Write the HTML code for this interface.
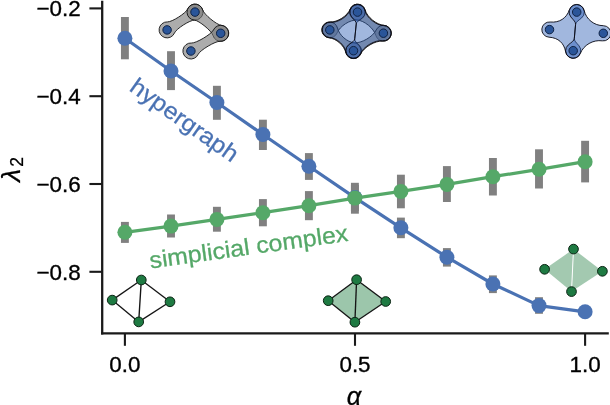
<!DOCTYPE html>
<html><head><meta charset="utf-8"><title>lambda2 vs alpha</title>
<style>
html,body{margin:0;padding:0;background:#fff;}
body{width:610px;height:405px;overflow:hidden;font-family:"Liberation Sans",sans-serif;}
svg{display:block}
text{font-family:"Liberation Sans",sans-serif;}
</style></head><body>
<svg width="610" height="405" viewBox="0 0 610 405">
<rect width="610" height="405" fill="#fff"/>

<g id="errorbars-blue">
<rect x="120.95" y="17.00" width="7.9" height="42.30" fill="#808080"/>
<rect x="167.05" y="51.20" width="7.9" height="38.90" fill="#808080"/>
<rect x="212.95" y="85.80" width="7.9" height="34.00" fill="#808080"/>
<rect x="258.95" y="119.70" width="7.9" height="30.30" fill="#808080"/>
<rect x="304.95" y="153.10" width="7.9" height="26.80" fill="#808080"/>
<rect x="350.95" y="185.00" width="7.9" height="26.00" fill="#808080"/>
<rect x="396.95" y="217.60" width="7.9" height="20.60" fill="#808080"/>
<rect x="442.95" y="248.10" width="7.9" height="18.50" fill="#808080"/>
<rect x="488.95" y="275.40" width="7.9" height="17.70" fill="#808080"/>
<rect x="535.05" y="297.20" width="7.9" height="16.60" fill="#808080"/>
</g>
<g id="errorbars-green">
<rect x="120.95" y="221.90" width="7.9" height="21.00" fill="#808080"/>
<rect x="167.05" y="214.50" width="7.9" height="23.00" fill="#808080"/>
<rect x="212.95" y="206.80" width="7.9" height="24.90" fill="#808080"/>
<rect x="258.95" y="199.10" width="7.9" height="27.20" fill="#808080"/>
<rect x="304.95" y="191.10" width="7.9" height="29.10" fill="#808080"/>
<rect x="350.95" y="182.80" width="7.9" height="30.90" fill="#808080"/>
<rect x="396.95" y="174.70" width="7.9" height="33.60" fill="#808080"/>
<rect x="442.95" y="166.10" width="7.9" height="35.90" fill="#808080"/>
<rect x="488.95" y="158.00" width="7.9" height="37.50" fill="#808080"/>
<rect x="535.05" y="149.30" width="7.9" height="39.20" fill="#808080"/>
<rect x="581.15" y="140.80" width="7.9" height="41.60" fill="#808080"/>
</g>
<g id="series-blue">
<polyline points="124.9,38.3 171.0,71.0 216.9,102.5 262.9,134.5 308.9,166.3 354.9,197.6 400.9,227.8 446.9,257.2 492.9,284.0 539.0,305.6 585.1,311.8" fill="none" stroke="#4a72b3" stroke-width="3.2" stroke-linejoin="round" stroke-linecap="round"/>
<circle cx="124.9" cy="38.3" r="7.5" fill="#4a72b3"/>
<circle cx="171.0" cy="71.0" r="7.5" fill="#4a72b3"/>
<circle cx="216.9" cy="102.5" r="7.5" fill="#4a72b3"/>
<circle cx="262.9" cy="134.5" r="7.5" fill="#4a72b3"/>
<circle cx="308.9" cy="166.3" r="7.5" fill="#4a72b3"/>
<circle cx="354.9" cy="197.6" r="7.5" fill="#4a72b3"/>
<circle cx="400.9" cy="227.8" r="7.5" fill="#4a72b3"/>
<circle cx="446.9" cy="257.2" r="7.5" fill="#4a72b3"/>
<circle cx="492.9" cy="284.0" r="7.5" fill="#4a72b3"/>
<circle cx="539.0" cy="305.6" r="7.5" fill="#4a72b3"/>
<circle cx="585.1" cy="311.8" r="7.5" fill="#4a72b3"/>
</g>
<g id="series-green">
<polyline points="124.9,232.3 171.0,226.1 216.9,219.4 262.9,212.7 308.9,205.7 354.9,198.1 400.9,191.4 446.9,184.4 492.9,176.7 539.0,169.3 585.1,161.7" fill="none" stroke="#55a868" stroke-width="3.2" stroke-linejoin="round" stroke-linecap="round"/>
<circle cx="124.9" cy="232.3" r="7.5" fill="#55a868"/>
<circle cx="171.0" cy="226.1" r="7.5" fill="#55a868"/>
<circle cx="216.9" cy="219.4" r="7.5" fill="#55a868"/>
<circle cx="262.9" cy="212.7" r="7.5" fill="#55a868"/>
<circle cx="308.9" cy="205.7" r="7.5" fill="#55a868"/>
<circle cx="354.9" cy="198.1" r="7.5" fill="#55a868"/>
<circle cx="400.9" cy="191.4" r="7.5" fill="#55a868"/>
<circle cx="446.9" cy="184.4" r="7.5" fill="#55a868"/>
<circle cx="492.9" cy="176.7" r="7.5" fill="#55a868"/>
<circle cx="539.0" cy="169.3" r="7.5" fill="#55a868"/>
<circle cx="585.1" cy="161.7" r="7.5" fill="#55a868"/>
</g>
<g id="axes" stroke="#1a1a1a" stroke-width="2.3" fill="none" stroke-linecap="butt">
<path d="M102.2 0.8V334.45"/>
<path d="M101.05 333.3H608.8"/>
<path d="M89.4 8.4H102.2" stroke-width="2.1"/>
<path d="M89.4 96.2H102.2" stroke-width="2.1"/>
<path d="M89.4 184.0H102.2" stroke-width="2.1"/>
<path d="M89.4 271.8H102.2" stroke-width="2.1"/>
<path d="M124.9 333.3V345.8" stroke-width="2.1"/>
<path d="M355.0 333.3V345.8" stroke-width="2.1"/>
<path d="M585.1 333.3V345.8" stroke-width="2.1"/>
</g>
<g id="ticklabels" font-size="22.4" fill="#000" stroke="#000" stroke-width="0.35">
<text transform="translate(80.6 16.3)" text-anchor="end">−0.2</text>
<text transform="translate(80.6 104.1)" text-anchor="end">−0.4</text>
<text transform="translate(80.6 191.9)" text-anchor="end">−0.6</text>
<text transform="translate(80.6 279.7)" text-anchor="end">−0.8</text>
<text transform="translate(124.9 372.0)" text-anchor="middle">0.0</text>
<text transform="translate(355.0 372.0)" text-anchor="middle">0.5</text>
<text transform="translate(585.1 372.0)" text-anchor="middle">1.0</text>
</g>
<text x="354.0" y="404.6" font-size="25.3" font-style="italic" text-anchor="middle" fill="#000" stroke="#000" stroke-width="0.3">α</text>
<text transform="translate(19.6 181.8) rotate(-90)" font-size="26" fill="#000" stroke="#000" stroke-width="0.25"><tspan font-style="italic">λ</tspan><tspan font-size="17.5" dx="2.2" dy="3.6">2</tspan></text>
<text transform="translate(128.3 90.1) rotate(35.3) scale(1 0.94)" font-size="25.0" fill="#4a72b3" stroke="#4a72b3" stroke-width="0.3">hypergraph</text>
<text transform="translate(150.6 268.4) rotate(-7.9) scale(1 0.94)" font-size="24.85" fill="#55a868" stroke="#55a868" stroke-width="0.3">simplicial complex</text>
<g id="sc-left">
<line x1="112.2" y1="300.1" x2="141.3" y2="280.0" stroke="#151515" stroke-width="1.35"/>
<line x1="141.3" y1="280.0" x2="170.0" y2="301.8" stroke="#151515" stroke-width="1.35"/>
<line x1="170.0" y1="301.8" x2="138.7" y2="321.9" stroke="#151515" stroke-width="1.35"/>
<line x1="138.7" y1="321.9" x2="112.2" y2="300.1" stroke="#151515" stroke-width="1.35"/>
<line x1="141.3" y1="280.0" x2="138.7" y2="321.9" stroke="#151515" stroke-width="1.35"/>
<circle cx="141.3" cy="280.0" r="4.85" fill="#1e7a42" stroke="#0b2414" stroke-width="1"/>
<circle cx="112.2" cy="300.1" r="4.85" fill="#1e7a42" stroke="#0b2414" stroke-width="1"/>
<circle cx="170.0" cy="301.8" r="4.85" fill="#1e7a42" stroke="#0b2414" stroke-width="1"/>
<circle cx="138.7" cy="321.9" r="4.85" fill="#1e7a42" stroke="#0b2414" stroke-width="1"/>
</g>
<g id="sc-mid">
<polygon points="356.6,279.7 328.2,300.7 354.9,322.2" fill="#9cc6ab"/>
<polygon points="356.6,279.7 385.7,301.5 354.9,322.2" fill="#9cc6ab"/>
<line x1="328.2" y1="300.7" x2="356.6" y2="279.7" stroke="#151515" stroke-width="1.35"/>
<line x1="356.6" y1="279.7" x2="385.7" y2="301.5" stroke="#151515" stroke-width="1.35"/>
<line x1="385.7" y1="301.5" x2="354.9" y2="322.2" stroke="#151515" stroke-width="1.35"/>
<line x1="354.9" y1="322.2" x2="328.2" y2="300.7" stroke="#151515" stroke-width="1.35"/>
<line x1="356.6" y1="279.7" x2="354.9" y2="322.2" stroke="#151515" stroke-width="1.35"/>
<circle cx="356.6" cy="279.7" r="4.85" fill="#1e7a42" stroke="#0b2414" stroke-width="1"/>
<circle cx="328.2" cy="300.7" r="4.85" fill="#1e7a42" stroke="#0b2414" stroke-width="1"/>
<circle cx="385.7" cy="301.5" r="4.85" fill="#1e7a42" stroke="#0b2414" stroke-width="1"/>
<circle cx="354.9" cy="322.2" r="4.85" fill="#1e7a42" stroke="#0b2414" stroke-width="1"/>
</g>
<g id="sc-right">
<polygon points="573.5,249.1 544.6,269.3 571.5,291.6" fill="#a3c9b0"/>
<polygon points="573.5,249.1 602.4,271.3 571.5,291.6" fill="#a3c9b0"/>
<line x1="573.5" y1="249.1" x2="571.5" y2="291.6" stroke="#fff" stroke-width="1"/>
<circle cx="573.5" cy="249.1" r="4.85" fill="#1e7a42" stroke="#0b2414" stroke-width="1"/>
<circle cx="544.6" cy="269.3" r="4.85" fill="#1e7a42" stroke="#0b2414" stroke-width="1"/>
<circle cx="602.4" cy="271.3" r="4.85" fill="#1e7a42" stroke="#0b2414" stroke-width="1"/>
<circle cx="571.5" cy="291.6" r="4.85" fill="#1e7a42" stroke="#0b2414" stroke-width="1"/>
</g>
<g id="hg-left">
<path d="M174.49 32.96C176.23 28.76 190.12 19.90 194.66 20.09A8.0 8.0 0 1 0 187.61 9.04C185.87 13.24 171.98 22.10 167.44 21.91A8.0 8.0 0 1 0 174.49 32.96Z" fill="#757575" fill-opacity="0.6" stroke="#111" stroke-width="0.9"/>
<path d="M194.37 20.08C198.90 20.43 211.78 31.06 212.99 35.44A8.0 8.0 0 1 0 221.33 25.32C216.80 24.97 203.92 14.34 202.71 9.96A8.0 8.0 0 1 0 194.37 20.08Z" fill="#757575" fill-opacity="0.6" stroke="#111" stroke-width="0.9"/>
<path d="M213.41 30.01C211.54 34.15 196.03 43.36 191.50 43.02A8.0 8.0 0 1 0 198.19 54.29C200.06 50.15 215.57 40.94 220.10 41.28A8.0 8.0 0 1 0 213.41 30.01Z" fill="#757575" fill-opacity="0.6" stroke="#111" stroke-width="0.9"/>
<circle cx="195.0" cy="12.1" r="4.25" fill="#2a5599" stroke="#0f2244" stroke-width="1"/>
<circle cx="167.1" cy="29.9" r="4.25" fill="#2a5599" stroke="#0f2244" stroke-width="1"/>
<circle cx="220.7" cy="33.3" r="4.25" fill="#2a5599" stroke="#0f2244" stroke-width="1"/>
<circle cx="190.9" cy="51.0" r="4.25" fill="#2a5599" stroke="#0f2244" stroke-width="1"/>
</g>
<g id="hg-mid">
<path d="M337.11 32.89C339.90 26.07 349.82 19.70 357.19 19.99A7.9 7.9 0 1 0 350.19 9.11C347.40 15.93 337.48 22.30 330.11 22.01A7.9 7.9 0 1 0 337.11 32.89Z" fill="#757575" fill-opacity="0.6" stroke="#111" stroke-width="0.9"/>
<path d="M356.93 19.98C364.28 20.51 373.79 28.26 375.80 35.36A7.9 7.9 0 1 0 383.97 25.32C376.62 24.79 367.11 17.04 365.10 9.94A7.9 7.9 0 1 0 356.93 19.98Z" fill="#757575" fill-opacity="0.6" stroke="#111" stroke-width="0.9"/>
<path d="M376.22 29.90C373.14 36.60 361.49 43.43 354.14 42.83A7.9 7.9 0 1 0 360.68 54.00C363.76 47.30 375.41 40.47 382.76 41.07A7.9 7.9 0 1 0 376.22 29.90Z" fill="#757575" fill-opacity="0.6" stroke="#111" stroke-width="0.9"/>
<path d="M354.36 42.85C347.04 42.04 339.22 35.19 337.47 28.03A7.9 7.9 0 1 0 328.94 37.75C336.26 38.56 344.08 45.41 345.83 52.57A7.9 7.9 0 1 0 354.36 42.85Z" fill="#757575" fill-opacity="0.6" stroke="#111" stroke-width="0.9"/>
<path d="M330.50 22.33C337.81 23.01 347.90 16.52 350.33 9.59A7.6 7.6 0 1 1 362.29 18.00C358.98 20.69 356.53 21.49 356.26 24.04L354.74 38.76C354.47 41.31 356.71 42.60 359.40 45.91A7.6 7.6 0 1 1 346.03 52.11C344.67 44.90 336.69 37.91 329.37 37.49A7.6 7.6 0 1 1 330.50 22.33Z" fill="#2f60b5" fill-opacity="0.45" stroke="#0a0a14" stroke-width="0.9"/>
<path d="M383.56 25.60C376.22 25.45 366.54 17.57 364.91 10.41A7.6 7.6 0 1 0 351.60 16.89C354.29 20.20 356.53 21.49 356.26 24.04L354.74 38.76C354.47 41.31 352.02 42.11 348.71 44.80A7.6 7.6 0 1 0 360.56 53.51C363.27 46.68 375.11 39.75 382.39 40.73A7.6 7.6 0 1 0 383.56 25.60Z" fill="#2f60b5" fill-opacity="0.45" stroke="#0a0a14" stroke-width="0.9"/>
<circle cx="357.5" cy="12.1" r="4.25" fill="#2a5599" stroke="#0f2244" stroke-width="1"/>
<circle cx="329.8" cy="29.9" r="4.25" fill="#2a5599" stroke="#0f2244" stroke-width="1"/>
<circle cx="383.4" cy="33.2" r="4.25" fill="#2a5599" stroke="#0f2244" stroke-width="1"/>
<circle cx="353.5" cy="50.7" r="4.25" fill="#2a5599" stroke="#0f2244" stroke-width="1"/>
</g>
<g id="hg-right">
<path d="M550.19 22.03C559.44 22.88 566.46 18.36 569.52 9.60A7.6 7.6 0 1 1 581.57 17.94C578.14 20.80 575.81 21.88 575.57 24.55L574.33 38.25C574.09 40.92 576.18 42.41 579.04 45.83A7.6 7.6 0 1 1 565.72 52.06C564.06 42.92 558.28 37.78 549.01 37.18A7.6 7.6 0 1 1 550.19 22.03Z" fill="#2f60b5" fill-opacity="0.45" stroke="#0a0a14" stroke-width="0.9"/>
<path d="M603.37 25.70C594.09 25.61 586.25 19.37 584.09 10.33A7.6 7.6 0 1 0 570.86 16.97C573.72 20.39 575.81 21.88 575.57 24.55L574.33 38.25C574.09 40.92 571.76 42.00 568.33 44.86A7.6 7.6 0 1 0 580.25 53.54C583.72 44.93 593.05 39.54 602.25 40.83A7.6 7.6 0 1 0 603.37 25.70Z" fill="#2f60b5" fill-opacity="0.45" stroke="#0a0a14" stroke-width="0.9"/>
<circle cx="576.7" cy="12.1" r="4.25" fill="#2a5599" stroke="#0f2244" stroke-width="1"/>
<circle cx="549.5" cy="29.6" r="4.25" fill="#2a5599" stroke="#0f2244" stroke-width="1"/>
<circle cx="603.3" cy="33.3" r="4.25" fill="#2a5599" stroke="#0f2244" stroke-width="1"/>
<circle cx="573.2" cy="50.7" r="4.25" fill="#2a5599" stroke="#0f2244" stroke-width="1"/>
</g>
</svg></body></html>
